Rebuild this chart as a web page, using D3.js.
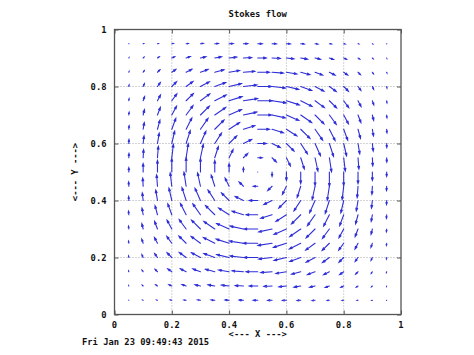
<!DOCTYPE html>
<html>
<head>
<meta charset="utf-8">
<script src="https://cdn.jsdelivr.net/npm/d3@7"></script>
<style>
  body { margin: 0; background: #fff; }
  text { font-family: "DejaVu Sans Mono", monospace; font-weight: bold; font-size: 8.8px; fill: #111; }
</style>
</head>
<body>
<div id="chart-area"></div>
<script>
// grid points of the vector field
const gridX = [0.05,0.1,0.15,0.2,0.25,0.3,0.35,0.4,0.45,0.5,0.55,0.6,0.65,0.7,0.75,0.8,0.85,0.9,0.95]
const gridY = [0.05,0.1,0.15,0.2,0.25,0.3,0.35,0.4,0.45,0.5,0.55,0.6,0.65,0.7,0.75,0.8,0.85,0.9,0.95]

const xTicks = [0, 0.2, 0.4, 0.6, 0.8, 1]
const xTickLabels = ["0", "0.2", "0.4", "0.6", "0.8", "1"]
const yTicks = [0, 0.2, 0.4, 0.6, 0.8, 1]
const yTickLabels = ["0", "0.2", "0.4", "0.6", "0.8", "1"]

// horizontal velocity, one row per gridY (bottom to top)
const uRows = [
  [-.01,-.03,-.06,-.11,-.15,-.20,-.25,-.28,-.30,-.31,-.30,-.28,-.25,-.20,-.15,-.11,-.06,-.03,-.01],
  [-.01,-.06,-.12,-.20,-.29,-.38,-.47,-.53,-.57,-.59,-.57,-.53,-.47,-.38,-.29,-.20,-.12,-.06,-.01],
  [-.02,-.08,-.17,-.28,-.40,-.53,-.64,-.73,-.79,-.81,-.79,-.73,-.64,-.53,-.40,-.28,-.17,-.08,-.02],
  [-.02,-.09,-.20,-.33,-.48,-.62,-.76,-.86,-.93,-.95,-.93,-.86,-.76,-.62,-.48,-.33,-.20,-.09,-.02],
  [-.02,-.10,-.21,-.35,-.50,-.65,-.79,-.90,-.98,-1,-.98,-.90,-.79,-.65,-.50,-.35,-.21,-.10,-.02],
  [-.02,-.09,-.20,-.33,-.48,-.62,-.76,-.86,-.93,-.95,-.93,-.86,-.76,-.62,-.48,-.33,-.20,-.09,-.02],
  [-.02,-.08,-.17,-.28,-.40,-.53,-.64,-.73,-.79,-.81,-.79,-.73,-.64,-.53,-.40,-.28,-.17,-.08,-.02],
  [-.01,-.06,-.12,-.20,-.29,-.38,-.47,-.53,-.57,-.59,-.57,-.53,-.47,-.38,-.29,-.20,-.12,-.06,-.01],
  [-.01,-.03,-.06,-.11,-.15,-.20,-.25,-.28,-.30,-.31,-.30,-.28,-.25,-.20,-.15,-.11,-.06,-.03,-.01],
  [0,0,0,0,0,0,0,0,0,0,0,0,0,0,0,0,0,0,0],
  [.01,.03,.06,.11,.15,.20,.25,.28,.30,.31,.30,.28,.25,.20,.15,.11,.06,.03,.01],
  [.01,.06,.12,.20,.29,.38,.47,.53,.57,.59,.57,.53,.47,.38,.29,.20,.12,.06,.01],
  [.02,.08,.17,.28,.40,.53,.64,.73,.79,.81,.79,.73,.64,.53,.40,.28,.17,.08,.02],
  [.02,.09,.20,.33,.48,.62,.76,.86,.93,.95,.93,.86,.76,.62,.48,.33,.20,.09,.02],
  [.02,.10,.21,.35,.50,.65,.79,.90,.98,1,.98,.90,.79,.65,.50,.35,.21,.10,.02],
  [.02,.09,.20,.33,.48,.62,.76,.86,.93,.95,.93,.86,.76,.62,.48,.33,.20,.09,.02],
  [.02,.08,.17,.28,.40,.53,.64,.73,.79,.81,.79,.73,.64,.53,.40,.28,.17,.08,.02],
  [.01,.06,.12,.20,.29,.38,.47,.53,.57,.59,.57,.53,.47,.38,.29,.20,.12,.06,.01],
  [.01,.03,.06,.11,.15,.20,.25,.28,.30,.31,.30,.28,.25,.20,.15,.11,.06,.03,.01]
]

// vertical velocity, same layout
const vRows = [
  [.01,.01,.02,.02,.02,.02,.02,.01,.01,0,-.01,-.01,-.02,-.02,-.02,-.02,-.02,-.01,-.01],
  [.03,.06,.08,.09,.10,.09,.08,.06,.03,0,-.03,-.06,-.08,-.09,-.10,-.09,-.08,-.06,-.03],
  [.06,.12,.17,.20,.21,.20,.17,.12,.06,0,-.06,-.12,-.17,-.20,-.21,-.20,-.17,-.12,-.06],
  [.11,.20,.28,.33,.35,.33,.28,.20,.11,0,-.11,-.20,-.28,-.33,-.35,-.33,-.28,-.20,-.11],
  [.15,.29,.40,.48,.50,.48,.40,.29,.15,0,-.15,-.29,-.40,-.48,-.50,-.48,-.40,-.29,-.15],
  [.20,.38,.53,.62,.65,.62,.53,.38,.20,0,-.20,-.38,-.53,-.62,-.65,-.62,-.53,-.38,-.20],
  [.25,.47,.64,.76,.79,.76,.64,.47,.25,0,-.25,-.47,-.64,-.76,-.79,-.76,-.64,-.47,-.25],
  [.28,.53,.73,.86,.90,.86,.73,.53,.28,0,-.28,-.53,-.73,-.86,-.90,-.86,-.73,-.53,-.28],
  [.30,.57,.79,.93,.98,.93,.79,.57,.30,0,-.30,-.57,-.79,-.93,-.98,-.93,-.79,-.57,-.30],
  [.31,.59,.81,.95,1,.95,.81,.59,.31,0,-.31,-.59,-.81,-.95,-1,-.95,-.81,-.59,-.31],
  [.30,.57,.79,.93,.98,.93,.79,.57,.30,0,-.30,-.57,-.79,-.93,-.98,-.93,-.79,-.57,-.30],
  [.28,.53,.73,.86,.90,.86,.73,.53,.28,0,-.28,-.53,-.73,-.86,-.90,-.86,-.73,-.53,-.28],
  [.25,.47,.64,.76,.79,.76,.64,.47,.25,0,-.25,-.47,-.64,-.76,-.79,-.76,-.64,-.47,-.25],
  [.20,.38,.53,.62,.65,.62,.53,.38,.20,0,-.20,-.38,-.53,-.62,-.65,-.62,-.53,-.38,-.20],
  [.15,.29,.40,.48,.50,.48,.40,.29,.15,0,-.15,-.29,-.40,-.48,-.50,-.48,-.40,-.29,-.15],
  [.11,.20,.28,.33,.35,.33,.28,.20,.11,0,-.11,-.20,-.28,-.33,-.35,-.33,-.28,-.20,-.11],
  [.06,.12,.17,.20,.21,.20,.17,.12,.06,0,-.06,-.12,-.17,-.20,-.21,-.20,-.17,-.12,-.06],
  [.03,.06,.08,.09,.10,.09,.08,.06,.03,0,-.03,-.06,-.08,-.09,-.10,-.09,-.08,-.06,-.03],
  [.01,.01,.02,.02,.02,.02,.02,.01,.01,0,-.01,-.01,-.02,-.02,-.02,-.02,-.02,-.01,-.01]
]

const arrowScale = 0.05   // data units per unit velocity
const arrowColor = "#2f2fd8"

var cw = 474
var ch = 355
var m = {l: 114.5, t: 29.5, r: 73, b: 40.5}
var w = cw - m.l - m.r
var h = ch - m.t - m.b

var svg = d3.select("#chart-area").append("svg")
    .attr("width", cw)
    .attr("height", ch)

var g = svg.append("g").attr("transform", "translate(" + m.l + ", " + m.t + ")")

var x = d3.scaleLinear().domain([0, 1]).range([0, w])
var y = d3.scaleLinear().domain([0, 1]).range([h, 0])

// grid
g.append("g").selectAll("line.vgrid")
    .data(xTicks.slice(1, -1))
    .enter().append("line")
    .attr("x1", d => x(d)).attr("x2", d => x(d))
    .attr("y1", 0).attr("y2", h)
    .attr("stroke", "#a8a8a8").attr("stroke-dasharray", "1,2")

g.append("g").selectAll("line.hgrid")
    .data(yTicks.slice(1, -1))
    .enter().append("line")
    .attr("y1", d => y(d)).attr("y2", d => y(d))
    .attr("x1", 0).attr("x2", w)
    .attr("stroke", "#a8a8a8").attr("stroke-dasharray", "1,2")

// ticks on all four sides, inward
var bottomAxis = d3.axisBottom(x).tickValues(xTicks).tickSize(-4).tickFormat("")
var topAxis = d3.axisTop(x).tickValues(xTicks).tickSize(-4).tickFormat("")
var leftAxis = d3.axisLeft(y).tickValues(yTicks).tickSize(-4).tickFormat("")
var rightAxis = d3.axisRight(y).tickValues(yTicks).tickSize(-4).tickFormat("")

g.append("g").attr("transform", "translate(0," + h + ")").call(bottomAxis)
g.append("g").call(topAxis)
g.append("g").call(leftAxis)
g.append("g").attr("transform", "translate(" + w + ",0)").call(rightAxis)
g.selectAll(".domain").remove()
g.selectAll(".tick line").attr("stroke", "#555")

g.append("rect")
    .attr("width", w).attr("height", h)
    .attr("fill", "none").attr("stroke", "#555").attr("stroke-width", 1.3)

// tick labels
g.append("g").selectAll("text")
    .data(xTicks)
    .enter().append("text")
    .attr("x", d => x(d))
    .attr("y", h + 13)
    .attr("text-anchor", "middle")
    .text((d, i) => xTickLabels[i])

g.append("g").selectAll("text")
    .data(yTicks)
    .enter().append("text")
    .attr("x", -8)
    .attr("y", d => y(d) + 3)
    .attr("text-anchor", "end")
    .text((d, i) => yTickLabels[i])

// vectors
var vectors = []
gridY.forEach((yy, j) => {
    gridX.forEach((xx, i) => {
        vectors.push({x: xx, y: yy, u: uRows[j][i], v: vRows[j][i]})
    })
})

var arrows = g.append("g").attr("class", "vectors")
    .attr("stroke", arrowColor)
    .attr("stroke-width", 1.1)
    .attr("stroke-linecap", "round")
    .attr("fill", "none")

arrows.selectAll("path")
    .data(vectors)
    .enter().append("path")
    .attr("d", d => {
        const x0 = x(d.x), y0 = y(d.y)
        const x1 = x(d.x + d.u * arrowScale), y1 = y(d.y + d.v * arrowScale)
        const dx = x1 - x0, dy = y1 - y0
        const len = Math.sqrt(dx * dx + dy * dy)
        let p = "M" + x0 + "," + y0 + "L" + x1 + "," + y1
        if (len > 0.3) {
            const hl = Math.min(2.8, len * 0.5)
            const a = Math.atan2(dy, dx)
            const s = 0.33
            p += "M" + (x1 - hl * Math.cos(a - s)) + "," + (y1 - hl * Math.sin(a - s))
                + "L" + x1 + "," + y1
                + "L" + (x1 - hl * Math.cos(a + s)) + "," + (y1 - hl * Math.sin(a + s))
        }
        return p
    })

// titles and labels
svg.append("text")
    .attr("x", m.l + w / 2)
    .attr("y", 17)
    .attr("text-anchor", "middle")
    .text("Stokes flow")

svg.append("text")
    .attr("x", m.l + w / 2)
    .attr("y", 337)
    .attr("text-anchor", "middle")
    .text("<--- X --->")

svg.append("text")
    .attr("transform", "translate(78," + (m.t + h / 2) + ") rotate(-90)")
    .attr("text-anchor", "middle")
    .text("<--- Y --->")

svg.append("text")
    .attr("x", 82)
    .attr("y", 345)
    .text("Fri Jan 23 09:49:43 2015")
</script>
</body>
</html>
